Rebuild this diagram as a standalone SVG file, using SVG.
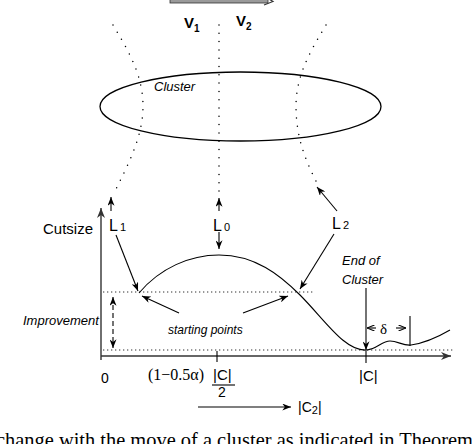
<svg xmlns="http://www.w3.org/2000/svg" width="474" height="444" viewBox="0 0 474 444">
<style>
.sans{font-family:"Liberation Sans",Arial,sans-serif;fill:#000}
.it{font-family:"Liberation Sans",Arial,sans-serif;font-style:italic;fill:#000}
.serif{font-family:"Liberation Serif","Times New Roman",serif;fill:#000}
.dots{fill:none;stroke:#000;stroke-width:1.5;stroke-linecap:round;stroke-dasharray:0 8.3}
.hdots{fill:none;stroke:#333;stroke-width:1.1;stroke-dasharray:1.3 2.7}
.ln{fill:none;stroke:#000;stroke-width:1.1}
.axis{fill:none;stroke:#333;stroke-width:1.4}
</style>
<defs>
<marker id="ah" viewBox="0 0 10 8" refX="10" refY="4" markerWidth="9" markerHeight="7" markerUnits="userSpaceOnUse" orient="auto-start-reverse">
<path d="M0,0 L10,4 L0,8 L3,4 z" fill="#000"/>
</marker>
<marker id="ahg" viewBox="0 0 10 8" refX="10" refY="4" markerWidth="10" markerHeight="8" markerUnits="userSpaceOnUse" orient="auto">
<path d="M0,0 L10,4 L0,8 L3,4 z" fill="#333"/>
</marker>
<marker id="open" viewBox="0 0 10 8" refX="10" refY="4" markerWidth="8" markerHeight="6" markerUnits="userSpaceOnUse" orient="auto">
<path d="M0,0 L10,4 L0,8" fill="none" stroke="#000" stroke-width="1.4"/>
</marker>
</defs>

<g id="top-arrow">
<rect x="170" y="-3" width="98" height="6" fill="#9a9a9a" stroke="#333" stroke-width="0.8"/>
<path d="M264,-4 L273,1.5 L264,5" fill="none" stroke="#333" stroke-width="1.2"/>
</g>

<g id="v-labels">
<text class="sans" x="184" y="28" font-size="15" font-weight="bold">V<tspan font-size="10" dy="4">1</tspan></text>
<text class="sans" x="236" y="26" font-size="15" font-weight="bold">V<tspan font-size="10" dy="4">2</tspan></text>
</g>

<g id="cluster">
<ellipse cx="240.5" cy="106.5" rx="140.5" ry="34.5" fill="none" stroke="#000" stroke-width="1.3"/>
<text class="it" x="154" y="91" font-size="13">Cluster</text>
</g>

<g id="dotted-lines">
<path class="dots" d="M219,25 L219,194"/>
<path class="dots" d="M113,25 C128,50 143,75 143,106 C143,137 128,165 113,195"/>
<path class="dots" d="M326,25 C311,50 296,75 296,106 C296,137 305,160 318,185"/>
</g>

<g id="L-labels">
<text class="sans" x="109" y="231" font-size="16">L<tspan font-size="11" dx="2">1</tspan></text>
<text class="sans" x="213" y="231" font-size="16">L<tspan font-size="11" dx="2">0</tspan></text>
<text class="sans" x="332" y="229" font-size="16">L<tspan font-size="11" dx="2">2</tspan></text>
</g>

<g id="axes">
<path class="axis" d="M101,360 L101,208" marker-end="url(#ahg)"/>
<path class="axis" d="M101,356 L451,356" marker-end="url(#ahg)"/>
<path class="ln" d="M217,351 L217,362"/>
<path class="ln" d="M366,351 L366,363"/>
<text class="sans" x="43" y="234" font-size="15">Cutsize</text>
</g>

<g id="levels">
<path class="hdots" d="M103,292 L315,292"/>
<path class="hdots" d="M103,350 L455,350"/>
</g>

<g id="curve">
<path class="ln" stroke-width="1.3" d="M139,293 C160,268 190,255 219,255 C255,255 280,275 300,295 C325,320 345,352 367,350 C377,349 382,341 390,341 C398,341 403,346 411,345 C425,343 438,337 450,330"/>
</g>

<g id="connectors">
<path class="ln" d="M111,211 L111,197" marker-end="url(#ah)"/>
<path class="ln" d="M219,211 L219,198" marker-end="url(#ah)"/>
<path class="ln" d="M219,232 L219,249" marker-end="url(#ah)"/>
<path class="ln" d="M337,211 L317,187" marker-end="url(#ah)"/>
<path class="ln" d="M116,235 L138,291" marker-end="url(#ah)"/>
<path class="ln" d="M334,234 L300,289" marker-end="url(#ah)"/>
<path class="ln" d="M179,313 L142,296" marker-end="url(#ah)"/>
<path class="ln" d="M243,313 L288,296" marker-end="url(#ah)"/>
<path class="ln" d="M113,297 L113,348" stroke-dasharray="5 3" marker-start="url(#ah)" marker-end="url(#ah)"/>
<path class="ln" d="M366,288 L366,350" marker-end="url(#ah)"/>
<path class="ln" d="M376,328 L367,328" marker-end="url(#open)"/>
<path class="ln" d="M396,328 L406,328" marker-end="url(#open)"/>
<path class="ln" d="M410,316 L410,346"/>
<path class="ln" d="M198,407 L291,407" marker-end="url(#ah)"/>
</g>

<g id="texts">
<text class="it" x="23" y="325" font-size="13">Improvement</text>
<text class="it" x="168" y="334" font-size="12">starting points</text>
<text class="it" x="342" y="265" font-size="13">End of</text>
<text class="it" x="342" y="284" font-size="13">Cluster</text>
<text class="serif" x="380" y="334" font-size="15">δ</text>
<text class="sans" x="101" y="383" font-size="14">0</text>
<text class="serif" x="148" y="380" font-size="16">(1−0.5α)</text>
<text class="sans" x="213" y="380" font-size="15">|C|</text>
<path class="ln" d="M212,385 L235,385"/>
<text class="sans" x="218" y="397" font-size="14">2</text>
<text class="sans" x="359" y="381" font-size="15">|C|</text>
<text class="sans" x="298" y="412" font-size="14">|C<tspan font-size="11" dy="2">2</tspan><tspan dy="-2">|</tspan></text>
</g>

<g id="caption">
<text class="serif" x="-4" y="447" font-size="22" textLength="477" lengthAdjust="spacingAndGlyphs">change with the move of a cluster as indicated in Theorem</text>
</g>
</svg>
